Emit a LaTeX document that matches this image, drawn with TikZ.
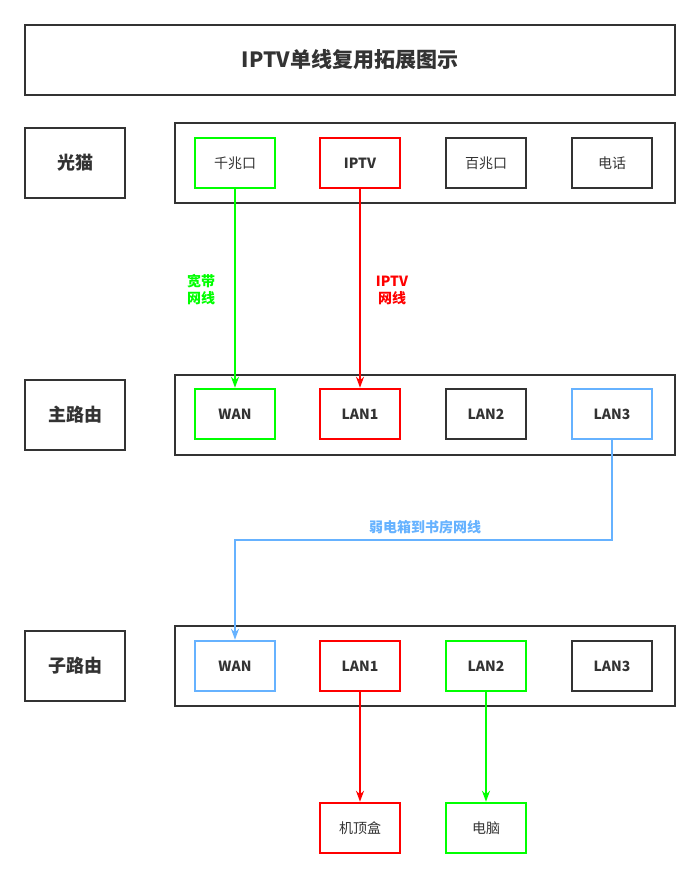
\documentclass[tikz,border=0pt]{standalone}
\usepackage{fontspec}
\setmainfont{Noto Sans CJK SC}
\usetikzlibrary{arrows.meta}
\definecolor{dk}{HTML}{333333}
\definecolor{gr}{HTML}{00FF00}
\definecolor{rd}{HTML}{FF0000}
\definecolor{bl}{HTML}{66B2FF}
\begin{document}
\begin{tikzpicture}[x=1pt,y=-1pt,
 bx/.style={draw=#1,line width=2.5pt,minimum width=80pt,minimum height=50pt,inner sep=0pt,font=\fontsize{14}{16}\selectfont\bfseries,text=dk},
 side/.style={draw=dk,line width=2.5pt,minimum width=100pt,minimum height=70pt,font=\fontsize{18}{20}\selectfont\bfseries,text=dk},
 cont/.style={draw=dk,line width=2.5pt,minimum width=500pt,minimum height=80pt},
 ar/.style={line width=1.6pt,-{Stealth[length=11pt,width=8pt]}}]
\useasboundingbox (0,0) rectangle (700,879);
\node[draw=dk,line width=2.5pt,minimum width=650pt,minimum height=70pt,font=\fontsize{21}{24}\selectfont\bfseries,text=dk] (t) at (350,60) {IPTV单线复用拓展图示};
\node[side] (s1) at (75,163) {光猫};
\node[side] (s2) at (75,415) {主路由};
\node[side] (s3) at (75,666) {子路由};
\node[cont] (c1) at (425,163) {};
\node[cont] (c2) at (425,415) {};
\node[cont] (c3) at (425,666) {};
\node[bx=gr] (a1) at (235,163) {\mdseries 千兆口};
\node[bx=rd] (a2) at (360,163) {IPTV};
\node[bx=dk] (a3) at (486,163) {\mdseries 百兆口};
\node[bx=dk] (a4) at (612,163) {\mdseries 电话};
\node[bx=gr] (b1) at (235,414) {WAN};
\node[bx=rd] (b2) at (360,414) {LAN1};
\node[bx=dk] (b3) at (486,414) {LAN2};
\node[bx=bl] (b4) at (612,414) {LAN3};
\node[bx=bl] (d1) at (235,666) {WAN};
\node[bx=rd] (d2) at (360,666) {LAN1};
\node[bx=gr] (d3) at (486,666) {LAN2};
\node[bx=dk] (d4) at (612,666) {LAN3};
\node[bx=rd] (e1) at (360,828) {\mdseries 机顶盒};
\node[bx=gr] (e2) at (486,828) {\mdseries 电脑};
\draw[ar,gr] (a1) -- (b1);
\draw[ar,rd] (a2) -- (b2);
\draw[ar,bl] (b4.south) |- (235,540) coordinate (m) -- (d1.north);
\draw[ar,rd] (d2) -- (e1);
\draw[ar,gr] (d3) -- (e2);
\node[text=gr,font=\fontsize{14}{17}\selectfont\bfseries,align=center] (l1) at (201,290) {宽带\\网线};
\node[text=rd,font=\fontsize{14}{17}\selectfont\bfseries,align=center] (l2) at (392,290) {IPTV\\网线};
\node[text=bl,font=\fontsize{14}{17}\selectfont\bfseries] (l3) at (425,527) {弱电箱到书房网线};
\end{tikzpicture}
\end{document}
